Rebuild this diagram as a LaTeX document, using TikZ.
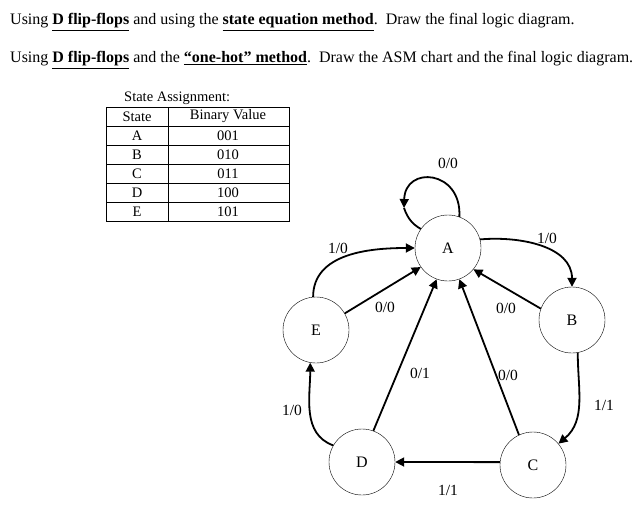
\documentclass[tikz,border=0pt]{standalone}
\usepackage{fontspec}
\setmainfont{Liberation Serif}
\usetikzlibrary{arrows.meta}
\begin{document}
\begin{tikzpicture}[x=1pt,y=-1pt,
  st/.style={circle,draw,minimum size=66pt,inner sep=0pt,font=\fontsize{16}{18}\selectfont},
  lbl/.style={font=\fontsize{15.5}{18}\selectfont},
  tl/.style={font=\fontsize{14.5}{17}\selectfont},
  ed/.style={line width=1.8pt,-{Triangle[length=9pt,width=9pt]}},
  tx/.style={anchor=west,inner sep=0pt,font=\fontsize{16}{19}\selectfont}]
\useasboundingbox (0,0) rectangle (643,515);
\node[tx] (l1) at (10,22) {Using \textbf{\underline{D flip-flops}} and using the \textbf{\underline{state equation method}}.\ \ Draw the final logic diagram.};
\node[tx] (l2) at (10,60) {Using \textbf{\underline{D flip-flops}} and the \textbf{\underline{“one-hot” method}}.\ \ Draw the ASM chart and the final logic diagram.};
% table
\node[tx,tl] (ttl) at (124,98) {State Assignment:};
\draw (106,107) rectangle (289,221);
\draw (168,107) -- (168,221);
\foreach \y in {126,145,164,183,202} \draw (106,\y) -- (289,\y);
\foreach \s/\v [count=\i from 0] in {State/Binary Value,A/001,B/010,C/011,D/100,E/101}{
  \node[tl] (s\i) at (137,116.5+19*\i) {\s};
  \node[tl] (v\i) at (228,116.5+19*\i) {\v};
}
% states
\node[st] (A) at (448,248) {A};
\node[st] (B) at (572,320) {B};
\node[st] (C) at (533,465) {C};
\node[st] (D) at (362,462) {D};
\node[st] (E) at (316,330) {E};
\coordinate (lp) at (404,208);
\draw[ed] (A.70) .. controls (462,170) and (405,165) .. (lp);
\draw[line width=1.8pt] (lp) to[out=-70,in=150] (A.145);
\node[lbl] (t0) at (448,163) {0/0};
\draw[ed] (A.15) to[out=5,in=90] (B.north);
\node[lbl] (t1) at (547,238) {1/0};
\draw[ed] (B.160) -- (A.-40);
\node[lbl] (t2) at (506,308) {0/0};
\draw[ed] (B.-80) to[out=-90,in=40] (C.40);
\node[lbl] (t3) at (604,405) {1/1};
\draw[ed] (C.115) -- (A.-70);
\node[lbl] (t4) at (508,375) {0/0};
\draw[ed] (C.175) to[out=180,in=0] (D.east);
\node[lbl] (t5) at (448,490) {1/1};
\draw[ed] (D.70) -- (A.-110);
\node[lbl] (t6) at (420,373) {0/1};
\draw[ed] (D.150) to[out=160,in=-90] (E.-100);
\node[lbl] (t7) at (292,410) {1/0};
\draw[ed] (E.30) -- (A.-145);
\node[lbl] (t8) at (385,307) {0/0};
\draw[ed] (E.95) to[out=90,in=180] (A.west);
\node[lbl] (t9) at (338,248) {1/0};
\end{tikzpicture}
\end{document}
